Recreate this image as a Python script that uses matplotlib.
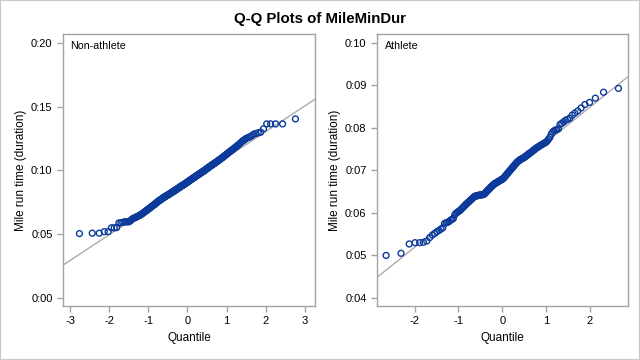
import matplotlib
matplotlib.use("Agg")
import matplotlib.pyplot as plt
from matplotlib.patches import Rectangle
from statistics import NormalDist
import numpy as np

plt.rcParams['font.family'] = ['Liberation Sans', 'DejaVu Sans']

title = "Q-Q Plots of MileMinDur"
groups = ["Non-athlete", "Athlete"]
ylabel = "Mile run time (duration)"
xlabel = "Quantile"

# Sorted mile run times (minutes)
nonathlete = [
    5.05, 5.08, 5.08, 5.20, 5.20, 5.50, 5.50, 5.52, 5.88, 5.90,
    5.92, 5.97, 5.97, 5.97, 5.98, 6.05, 6.15, 6.22, 6.27, 6.30,
    6.35, 6.38, 6.42, 6.47, 6.50, 6.55, 6.60, 6.65, 6.70, 6.75,
    6.80, 6.85, 6.88, 6.93, 6.98, 7.02, 7.07, 7.10, 7.15, 7.20,
    7.23, 7.27, 7.32, 7.35, 7.40, 7.43, 7.47, 7.52, 7.55, 7.60,
    7.63, 7.65, 7.68, 7.72, 7.75, 7.78, 7.82, 7.85, 7.87, 7.90,
    7.93, 7.95, 7.98, 8.00, 8.03, 8.05, 8.08, 8.10, 8.13, 8.15,
    8.18, 8.20, 8.23, 8.25, 8.28, 8.30, 8.33, 8.35, 8.38, 8.40,
    8.42, 8.45, 8.47, 8.50, 8.52, 8.55, 8.57, 8.60, 8.62, 8.65,
    8.67, 8.70, 8.72, 8.75, 8.77, 8.80, 8.82, 8.83, 8.85, 8.88,
    8.90, 8.93, 8.95, 8.97, 9.00, 9.02, 9.05, 9.07, 9.10, 9.12,
    9.15, 9.17, 9.20, 9.22, 9.25, 9.27, 9.30, 9.32, 9.35, 9.37,
    9.40, 9.42, 9.45, 9.47, 9.50, 9.52, 9.55, 9.57, 9.60, 9.62,
    9.65, 9.67, 9.70, 9.72, 9.74, 9.77, 9.80, 9.82, 9.85, 9.87,
    9.90, 9.92, 9.95, 9.97, 10.00, 10.03, 10.06, 10.09, 10.12, 10.15,
    10.18, 10.21, 10.24, 10.27, 10.30, 10.33, 10.36, 10.39, 10.42, 10.45,
    10.48, 10.51, 10.54, 10.57, 10.60, 10.63, 10.67, 10.70, 10.73, 10.77,
    10.80, 10.84, 10.88, 10.92, 10.95, 10.99, 11.03, 11.08, 11.12, 11.17,
    11.21, 11.26, 11.30, 11.35, 11.40, 11.45, 11.50, 11.55, 11.60, 11.65,
    11.70, 11.77, 11.83, 11.89, 11.95, 12.02, 12.10, 12.18, 12.27, 12.35,
    12.40, 12.50, 12.55, 12.60, 12.65, 12.75, 12.85, 12.90, 12.95, 13.00,
    13.26, 13.65, 13.65, 13.65, 13.65, 14.04,
]

athlete = [
    5.00, 5.05, 5.27, 5.30, 5.30, 5.31, 5.34, 5.42, 5.48, 5.52,
    5.56, 5.59, 5.62, 5.65, 5.75, 5.77, 5.78, 5.80, 5.83, 5.85,
    5.87, 5.95, 5.99, 6.01, 6.03, 6.05, 6.07, 6.10, 6.12, 6.15,
    6.17, 6.20, 6.22, 6.24, 6.26, 6.28, 6.30, 6.32, 6.34, 6.36,
    6.38, 6.39, 6.40, 6.40, 6.41, 6.41, 6.42, 6.42, 6.42, 6.43,
    6.43, 6.43, 6.44, 6.45, 6.47, 6.49, 6.51, 6.53, 6.55, 6.56,
    6.58, 6.60, 6.62, 6.63, 6.65, 6.66, 6.68, 6.69, 6.70, 6.71,
    6.72, 6.73, 6.74, 6.75, 6.76, 6.77, 6.78, 6.79, 6.80, 6.81,
    6.83, 6.85, 6.87, 6.89, 6.91, 6.93, 6.95, 6.97, 6.99, 7.01,
    7.03, 7.05, 7.07, 7.09, 7.11, 7.13, 7.15, 7.17, 7.19, 7.21,
    7.22, 7.23, 7.25, 7.26, 7.27, 7.28, 7.29, 7.30, 7.31, 7.33,
    7.34, 7.36, 7.37, 7.39, 7.40, 7.42, 7.43, 7.45, 7.47, 7.48,
    7.50, 7.52, 7.53, 7.55, 7.56, 7.58, 7.59, 7.61, 7.62, 7.64,
    7.65, 7.67, 7.70, 7.74, 7.78, 7.85, 7.90, 7.93, 7.95, 7.96,
    7.98, 8.08, 8.11, 8.14, 8.18, 8.20, 8.23, 8.30, 8.35, 8.40,
    8.47, 8.55, 8.60, 8.70, 8.84, 8.93,
]

# Reference line (mean, sigma)
ref_mu = [9.00, 6.84]
ref_sigma = [2.02, 0.824]

left_yticks = [0, 5, 10, 15, 20]
right_yticks = [4, 5, 6, 7, 8, 9, 10]
left_xticks = [-3, -2, -1, 0, 1, 2, 3]
right_xticks = [-2, -1, 0, 1, 2]

marker_color = "#0b3a9a"
line_color = "#ababab"
spine_color = "#a0a3a8"


def blom_quantiles(n):
    nd = NormalDist()
    return np.array([nd.inv_cdf((i - 0.375) / (n + 0.25)) for i in range(1, n + 1)])


def fmt(v):
    return "%d:%02d" % (0, int(round(v)))


fig = plt.figure(figsize=(6.4, 3.6), dpi=100)
fig.patches.append(Rectangle((0, 0), 1, 1, transform=fig.transFigure,
                             fill=False, edgecolor="#c8c8c8", linewidth=1.5))

panels = [
    (nonathlete, groups[0], [63 / 640, 54 / 360, 252 / 640, 272 / 360],
     (-3.18, 3.26), (-0.63, 20.7), left_xticks, left_yticks, ref_mu[0], ref_sigma[0]),
    (athlete, groups[1], [377 / 640, 54 / 360, 251 / 640, 272 / 360],
     (-2.86, 2.87), (3.81, 10.21), right_xticks, right_yticks, ref_mu[1], ref_sigma[1]),
]

for data, label, pos, xl, yl, xt, yt, mu, sd in panels:
    ax = fig.add_axes(pos)
    y = np.sort(np.array(data))
    q = blom_quantiles(len(y))
    xs = np.array(xl)
    ax.plot(xs, mu + sd * xs, color=line_color, lw=1.0, zorder=1)
    ax.scatter(q, y, s=18, facecolors="none", edgecolors=marker_color,
               linewidths=1.0, zorder=2)
    ax.set_xlim(xl)
    ax.set_ylim(yl)
    ax.set_xticks(xt)
    ax.set_xticklabels([str(t) for t in xt])
    ax.set_yticks(yt)
    ax.set_yticklabels([fmt(t) for t in yt])
    for s in ax.spines.values():
        s.set_color(spine_color)
        s.set_linewidth(1.0)
    ax.tick_params(axis="both", colors=spine_color, labelcolor="black",
                   labelsize=8, length=4.5, width=1, pad=3)
    ax.set_xlabel(xlabel, fontsize=8.5, labelpad=4)
    ax.set_ylabel(ylabel, fontsize=8.5, labelpad=3)
    ax.text(0.03, 0.975, label, transform=ax.transAxes, ha="left", va="top",
            fontsize=7.7)

fig.text(0.5, 1 - 19 / 360, title, ha="center", va="center",
         fontsize=10.8, fontweight="bold")

fig.savefig("out.png", dpi=100)
